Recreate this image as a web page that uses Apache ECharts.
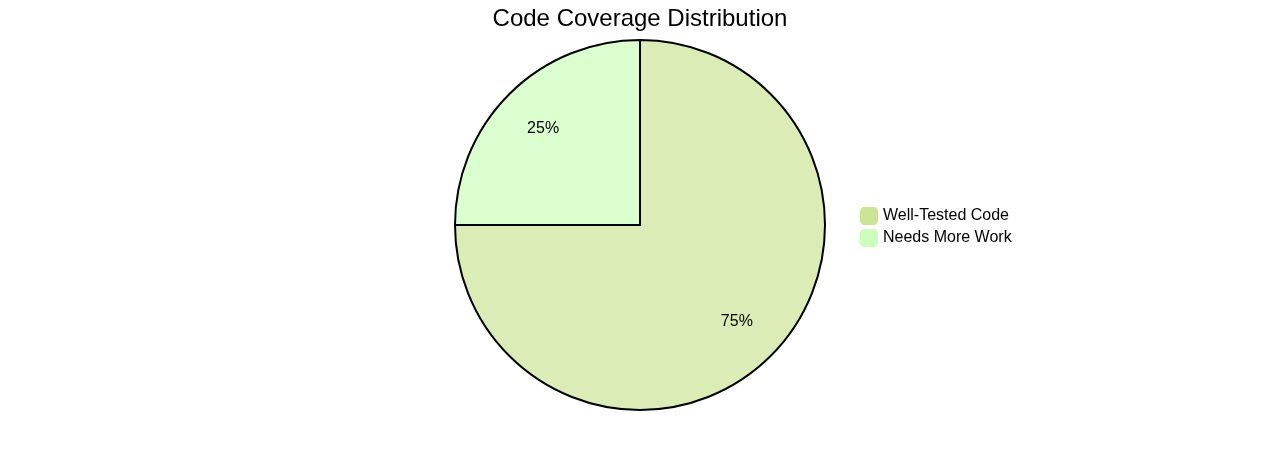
<!DOCTYPE html>
<html><head><meta charset="utf-8">
<script src="https://cdn.jsdelivr.net/npm/echarts@6/dist/echarts.min.js"></script>
<style>html,body{margin:0;padding:0;background:#fff}#c{width:1280px;height:450px}</style>
</head><body><div id="c"></div>
<script>
const categories = ["Well-Tested Code", "Needs More Work"];
const values = [75, 25];
const labels = ["75%", "25%"];
const sliceColors = ["#dcecb7", "#dcffcf"];
const legendColors = ["#cde498", "#ccffbb"];
const chart = echarts.init(document.getElementById('c'));
chart.setOption({
  animation: false,
  title: {text: "Code Coverage Distribution", left: 'center', top: 2,
    textStyle: {fontFamily: 'Liberation Sans', fontSize: 24, fontWeight: 'normal', color: '#000'}},
  legend: {orient: 'vertical', left: 855, top: 202, itemWidth: 18, itemHeight: 18, itemGap: 4,
    textStyle: {fontFamily: 'Liberation Sans', fontSize: 16, color: '#000'},
    data: categories.map((n, i) => ({name: n, itemStyle: {color: legendColors[i], borderWidth: 0}}))},
  series: [{
    type: 'pie', center: [640, 225], radius: [0, 185], startAngle: 90, clockwise: true,
    label: {show: false}, labelLine: {show: false}, silent: true,
    itemStyle: {borderColor: '#000', borderWidth: 2},
    data: categories.map((n, i) => ({name: n, value: values[i], itemStyle: {color: sliceColors[i]}}))
  }, {
    type: 'pie', center: [640, 225], radius: [100, 168], startAngle: 90, clockwise: true,
    silent: true, legendHoverLink: false,
    itemStyle: {color: 'transparent', borderWidth: 0},
    label: {show: true, position: 'inside', fontFamily: 'Liberation Sans', fontSize: 16, color: '#000',
      formatter: p => labels[p.dataIndex]},
    labelLine: {show: false},
    data: categories.map((n, i) => ({name: n + ' ', value: values[i]}))
  }]
});
</script></body></html>
